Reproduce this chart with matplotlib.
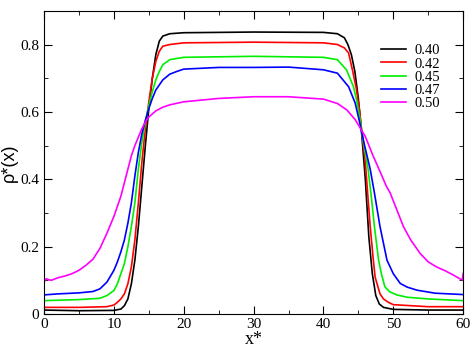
import numpy as np
import matplotlib

matplotlib.use("Agg")
import matplotlib.pyplot as plt
from matplotlib.ticker import MultipleLocator

# density profiles rho*(x) for each average density
labels = ['0.40', '0.42', '0.45', '0.47', '0.50']
colors = ['black', '#ff0000', '#00ee00', '#0000ff', '#ff00ff']

x040 = [0, 5, 10, 11, 11.5, 12, 12.5, 13, 13.5, 14, 14.5, 15, 15.5, 16, 16.5, 17, 18, 20, 30, 40, 42, 43,
        43.5, 44, 44.5, 45, 45.5, 46, 46.5, 47, 47.5, 48, 48.6, 50, 55, 60]
y040 = [0.012, 0.010, 0.011, 0.015, 0.025, 0.045, 0.09, 0.16, 0.26, 0.38, 0.50, 0.61, 0.70, 0.77, 0.81, 0.825,
        0.832, 0.835, 0.837, 0.836, 0.832, 0.82, 0.80, 0.77, 0.72, 0.64, 0.53, 0.40, 0.23, 0.12, 0.055, 0.03,
        0.02, 0.014, 0.012, 0.012]

x042 = [0, 5, 9, 10, 10.5, 11, 11.5, 12, 12.5, 13, 13.5, 14, 14.5, 15, 15.5, 16, 16.5, 17, 18, 20, 30, 40, 42,
        43, 43.6, 44.2, 44.7, 45.2, 45.6, 46, 46.4, 46.7, 47.1, 47.4, 48.1, 48.6, 49.3, 50, 55, 60]
y042 = [0.02, 0.02, 0.022, 0.027, 0.035, 0.045, 0.06, 0.09, 0.14, 0.22, 0.33, 0.45, 0.55, 0.63, 0.70, 0.75,
        0.78, 0.795, 0.80, 0.805, 0.807, 0.805, 0.80, 0.79, 0.775, 0.72, 0.67, 0.60, 0.52, 0.45, 0.34, 0.26, 0.17,
        0.11, 0.06, 0.045, 0.035, 0.028, 0.022, 0.022]

x045 = [0, 5, 8, 9, 10, 10.5, 11, 11.5, 12, 12.5, 13, 13.5, 14, 14.5, 15, 15.5, 16, 16.5, 17, 18, 20, 30, 40,
        42, 43.3, 44.3, 44.8, 45.25, 45.8, 46.4, 46.9, 47.3, 47.9, 48.3, 48.8, 49.5, 50.5, 52, 55, 60]
y045 = [0.04, 0.043, 0.047, 0.055, 0.07, 0.09, 0.12, 0.15, 0.20, 0.26, 0.33, 0.43, 0.51, 0.57, 0.62, 0.66,
        0.695, 0.72, 0.74, 0.755, 0.762, 0.765, 0.762, 0.755, 0.725, 0.675, 0.63, 0.577, 0.50, 0.43, 0.34, 0.26,
        0.16, 0.12, 0.081, 0.066, 0.057, 0.05, 0.045, 0.04]

x047 = [0, 2, 5, 7, 8, 9, 10, 10.5, 11, 11.5, 12, 12.5, 13, 13.5, 14, 14.5, 15, 15.5, 16, 17, 18, 19, 20, 25,
        30, 35, 40, 42, 43.6, 44.55, 45.1, 45.9, 46.7, 47.3, 48.1, 48.6, 49.1, 50, 51, 52, 53.4, 56, 60]
y047 = [0.057, 0.06, 0.063, 0.067, 0.075, 0.095, 0.13, 0.155, 0.185, 0.22, 0.27, 0.33, 0.41, 0.48, 0.535, 0.575,
        0.61, 0.64, 0.665, 0.695, 0.712, 0.72, 0.727, 0.732, 0.732, 0.733, 0.725, 0.715, 0.675, 0.626, 0.577,
        0.50, 0.43, 0.36, 0.26, 0.21, 0.16, 0.12, 0.091, 0.08, 0.071, 0.062, 0.058]

x050 = [0, 0.3, 1, 2, 3, 4, 5, 6, 7, 8, 9, 10, 11, 12, 12.5, 13, 13.5, 14, 14.5, 15, 16, 17, 18, 20, 25, 30,
        35, 40, 42, 43.35, 44.55, 46, 47, 48, 49, 49.55, 50.5, 51.45, 52.5, 53.85, 55, 56.2, 57.5, 58.6, 59.6,
        59.9, 60]
y050 = [0.095, 0.105, 0.10, 0.108, 0.113, 0.12, 0.13, 0.145, 0.163, 0.195, 0.24, 0.29, 0.35, 0.43, 0.47, 0.50,
        0.525, 0.55, 0.57, 0.585, 0.603, 0.614, 0.621, 0.63, 0.64, 0.645, 0.645, 0.638, 0.625, 0.606, 0.577,
        0.527, 0.475, 0.428, 0.38, 0.36, 0.31, 0.26, 0.22, 0.18, 0.155, 0.14, 0.128, 0.116, 0.104, 0.102, 0.12]

xs = [x040, x042, x045, x047, x050]
ys = [y040, y042, y045, y047, y050]

plt.rcParams['font.family'] = ['Liberation Serif', 'DejaVu Serif']

fig = plt.figure(figsize=(4.74, 3.49), dpi=100)
ax = fig.add_axes([0.093, 0.100, 0.884, 0.869])

for x, y, c, lab in zip(xs, ys, colors, labels):
    ax.plot(x, y, color=c, lw=1.2, label=lab)

ax.set_xlim(0, 60)
ax.set_ylim(0, 0.9)
ax.xaxis.set_major_locator(MultipleLocator(10))
ax.xaxis.set_minor_locator(MultipleLocator(5))
ax.yaxis.set_major_locator(MultipleLocator(0.2))
ax.yaxis.set_minor_locator(MultipleLocator(0.1))
ax.set_yticks([0, 0.2, 0.4, 0.6, 0.8])
ax.set_yticklabels(['0', '0.2', '0.4', '0.6', '0.8'])
ax.tick_params(which='both', direction='in', top=True, right=True, labelsize=11)
ax.tick_params(axis='x', pad=3)
ax.tick_params(which='major', length=6)
ax.tick_params(which='minor', length=3)
for s in ax.spines.values():
    s.set_linewidth(0.8)

ax.set_xlabel('x*', fontsize=13, labelpad=0)
ax.set_ylabel('ρ*(x)', fontsize=13, family=['Liberation Sans', 'DejaVu Sans'], labelpad=2)

ax.legend(loc='upper left', bbox_to_anchor=(0.805, 0.89), frameon=False, fontsize=10.5,
          handlelength=1.7, handletextpad=0.55, labelspacing=0.0, borderpad=0, borderaxespad=0)

fig.savefig('out.png', dpi=100)
